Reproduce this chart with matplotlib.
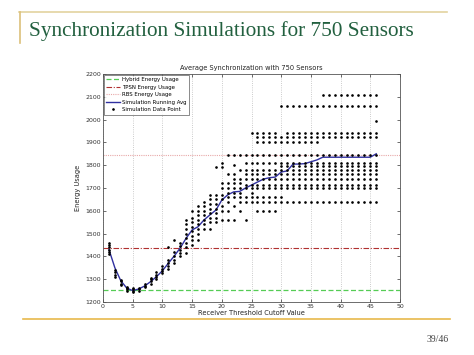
import matplotlib.pyplot as plt
from matplotlib.lines import Line2D

# reference energy levels
hybrid_level = 1252
tpsn_level = 1435
rbs_level = 1845

# running average, one value per cutoff 1..46
cutoff = list(range(1, 47))
running_avg = [1430, 1350, 1293, 1261, 1250, 1257, 1270, 1289, 1311, 1337,
               1370, 1402, 1437, 1480, 1516, 1530, 1560, 1582, 1603, 1647,
               1670, 1683, 1685, 1700, 1713, 1726, 1739, 1745, 1748, 1770,
               1775, 1805, 1805, 1807, 1815, 1823, 1835, 1835, 1835, 1835,
               1835, 1835, 1835, 1835, 1835, 1850]

# simulation data points per cutoff value
col_26 = [1600, 1640, 1660, 1700, 1715, 1740, 1760, 1780, 1810, 1845, 1900, 1925, 1940]
col_30 = [1640, 1660, 1700, 1715, 1740, 1760, 1780, 1795, 1810, 1845, 1900, 1925, 2060]
col_31 = [1640, 1700, 1715, 1740, 1760, 1780, 1795, 1810, 1845, 1900, 1925, 1940, 2060]
col_37 = [1640, 1700, 1715, 1740, 1760, 1780, 1795, 1810, 1845, 1925, 1940, 2060, 2110]
col_46 = col_37 + [1995]
data_points = [
    [1410, 1420, 1430, 1440, 1450, 1460],
    [1310, 1320, 1330, 1340],
    [1275, 1280, 1290, 1295],
    [1250, 1255, 1260, 1265],
    [1245, 1250, 1255, 1260],
    [1250, 1255, 1260],
    [1265, 1270, 1280],
    [1280, 1290, 1300, 1305],
    [1300, 1310, 1320, 1330],
    [1325, 1335, 1345, 1360],
    [1345, 1360, 1370, 1385, 1440],
    [1370, 1385, 1400, 1420, 1470],
    [1400, 1415, 1430, 1445, 1460],
    [1415, 1440, 1460, 1480, 1500, 1520, 1540, 1560],
    [1450, 1470, 1490, 1510, 1530, 1550, 1570, 1600],
    [1470, 1500, 1520, 1540, 1560, 1580, 1600, 1620],
    [1520, 1540, 1560, 1580, 1600, 1620, 1640],
    [1520, 1550, 1570, 1590, 1610, 1630, 1650, 1670],
    [1550, 1570, 1590, 1610, 1630, 1650, 1670, 1790],
    [1560, 1600, 1620, 1650, 1670, 1700, 1720, 1790, 1810],
    [1560, 1600, 1640, 1660, 1680, 1700, 1720, 1760, 1845],
    [1560, 1620, 1660, 1680, 1700, 1720, 1740, 1760, 1800, 1845],
    [1600, 1640, 1660, 1680, 1700, 1720, 1740, 1780, 1845],
    [1560, 1640, 1660, 1700, 1715, 1740, 1760, 1780, 1810, 1845],
    [1640, 1660, 1680, 1700, 1715, 1740, 1760, 1780, 1810, 1845, 1940],
    col_26, col_26, col_26, col_26,
    col_30,
    col_31, col_31, col_31, col_31, col_31, col_31,
    col_37, col_37, col_37, col_37, col_37, col_37, col_37, col_37, col_37,
    col_46,
]

x_ticks = list(range(0, 51, 5))
y_ticks = list(range(1200, 2201, 100))

fig = plt.figure(figsize=(4.74, 3.55), dpi=100)
fig.patch.set_facecolor('white')

# slide decoration
gold = '#dcc07a'
fig.add_artist(Line2D([19 / 474, 447 / 474], [1 - 12 / 355] * 2, color='#e3d3a0', lw=1.2))
fig.add_artist(Line2D([20 / 474] * 2, [1 - 12 / 355, 1 - 43 / 355], color=gold, lw=1.2))
fig.add_artist(Line2D([23 / 474, 450 / 474], [1 - 319 / 355] * 2, color='#e8b94c', lw=1.2))
fig.text(29 / 474, 1 - 31 / 355, 'Synchronization Simulations for 750 Sensors',
         family='Liberation Serif', fontsize=15.3, color='#22603f', va='center', ha='left')
fig.text(438 / 474, 1 - 340 / 355, '39/46', family='Liberation Serif', fontsize=7,
         color='#444444', ha='center', va='center')

ax = fig.add_axes([103 / 474, 1 - 302 / 355, 297 / 474, 228 / 355])

xs, ys = [], []
for x, col in zip(cutoff, data_points):
    for y in col:
        xs.append(x)
        ys.append(y)

ax.axhline(hybrid_level, color='#55cc55', ls=(0, (4, 2)), lw=0.9, label='Hybrid Energy Usage')
ax.axhline(tpsn_level, color='#b03030', ls=(0, (5, 1.5, 1, 1.5)), lw=0.8, label='TPSN Energy Usage')
ax.axhline(rbs_level, color='#e8a8a8', ls=(0, (1, 1)), lw=0.8, label='RBS Energy Usage')
ax.plot(cutoff, running_avg, color='#3030a0', lw=1.0, label='Simulation Running Avg')
ax.plot(xs, ys, ls='none', marker='.', ms=1.8, color='black', label='Simulation Data Point')

ax.set_xlim(0, 50)
ax.set_ylim(1200, 2200)
ax.set_xticks(x_ticks)
ax.set_yticks(y_ticks)
ax.grid(axis='x', color='#bbbbbb', ls=':', lw=0.6)
ax.tick_params(direction='in', length=2, width=0.5, labelsize=4.5, colors='#333333',
               top=True, right=True, labelright=False, labeltop=False, pad=1.5)
for s in ax.spines.values():
    s.set_linewidth(0.6)
    s.set_color('#555555')

ax.set_title('Average Synchronization with 750 Sensors', fontsize=4.8, color='#222222', pad=3)
ax.set_xlabel('Receiver Threshold Cutoff Value', fontsize=4.8, color='#222222', labelpad=1)
ax.set_ylabel('Energy Usage', fontsize=4.8, color='#222222', labelpad=3)

leg = ax.legend(loc='upper left', fontsize=3.9, frameon=True, fancybox=False,
                borderaxespad=0.1, handlelength=2.6, labelspacing=0.45, borderpad=0.5,
                handletextpad=0.3)
leg.get_frame().set_edgecolor('#333333')
leg.get_frame().set_linewidth(0.5)

fig.savefig('out.png', dpi=100, facecolor='white')
